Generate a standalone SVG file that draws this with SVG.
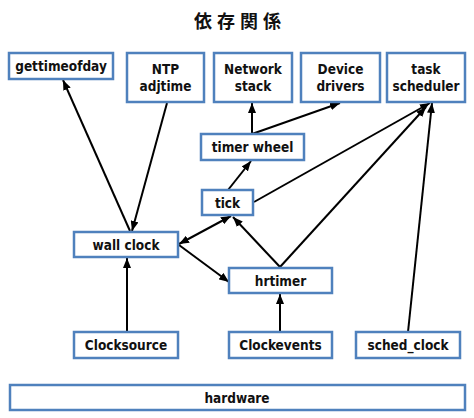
<svg xmlns="http://www.w3.org/2000/svg" width="474" height="418" viewBox="0 0 474 418">
<style>
.box{fill:#fff;stroke:#4f81bd;stroke-width:2.5}
.lbl{font-family:"DejaVu Sans Condensed","DejaVu Sans",sans-serif;font-stretch:condensed;font-weight:bold;font-size:13.5px;fill:#111;text-anchor:middle}
.title{font-family:"Noto Sans CJK JP","Noto Sans CJK SC",sans-serif;font-weight:bold;font-size:18px;fill:#111;text-anchor:middle;letter-spacing:5px}
.c{stroke:#000;stroke-width:2;fill:none;marker-end:url(#ah)}
</style>
<defs>
<marker id="ah" viewBox="0 0 10 8" refX="10" refY="4" markerWidth="10" markerHeight="8" markerUnits="userSpaceOnUse" orient="auto-start-reverse">
<path d="M0,0 L10,4 L0,8 z" fill="#000"/>
</marker>
</defs>
<rect width="474" height="418" fill="#fff"/>
<text class="title" x="240" y="28">依存関係</text>
<g id="connectors">
<line class="c" x1="130" y1="231" x2="63" y2="80"/>
<line class="c" x1="167" y1="103" x2="132" y2="231"/>
<line class="c" x1="127" y1="332" x2="127" y2="258"/>
<line class="c" x1="179" y1="244" x2="231" y2="216" style="marker-start:url(#ah)"/>
<line class="c" x1="179" y1="245" x2="229" y2="282"/>
<line class="c" x1="280" y1="267" x2="233" y2="217"/>
<line class="c" x1="280" y1="267" x2="426" y2="107"/>
<line class="c" x1="254" y1="202" x2="430" y2="103"/>
<line class="c" x1="408" y1="332" x2="432" y2="103"/>
<line class="c" x1="228" y1="190" x2="251" y2="161"/>
<line class="c" x1="252" y1="134" x2="252" y2="103"/>
<line class="c" x1="252" y1="134" x2="340" y2="103"/>
<line class="c" x1="280" y1="332" x2="280" y2="294"/>
</g>
<g id="gettimeofday"><rect class="box" x="9" y="53" width="104" height="26"/><text class="lbl" x="61" y="71">gettimeofday</text></g>
<g id="ntp"><rect class="box" x="127" y="53" width="77" height="49"/><text class="lbl" x="165.5" y="74">NTP</text><text class="lbl" x="165.5" y="91">adjtime</text></g>
<g id="network"><rect class="box" x="214" y="53" width="78" height="49"/><text class="lbl" x="253" y="74">Network</text><text class="lbl" x="253" y="91">stack</text></g>
<g id="device"><rect class="box" x="301" y="53" width="79" height="49"/><text class="lbl" x="340.5" y="74">Device</text><text class="lbl" x="340.5" y="91">drivers</text></g>
<g id="scheduler"><rect class="box" x="387" y="53" width="78" height="49"/><text class="lbl" x="426" y="74">task</text><text class="lbl" x="426" y="91">scheduler</text></g>
<g id="timerwheel"><rect class="box" x="201" y="134" width="103" height="26"/><text class="lbl" x="252.5" y="152">timer wheel</text></g>
<g id="tick"><rect class="box" x="202" y="190" width="51" height="25"/><text class="lbl" x="227.5" y="207.5">tick</text></g>
<g id="wallclock"><rect class="box" x="74" y="232" width="104" height="25"/><text class="lbl" x="126" y="249.5">wall clock</text></g>
<g id="hrtimer"><rect class="box" x="229" y="268" width="103" height="25"/><text class="lbl" x="280.5" y="285.5">hrtimer</text></g>
<g id="clocksource"><rect class="box" x="74" y="332" width="104" height="26"/><text class="lbl" x="126" y="350">Clocksource</text></g>
<g id="clockevents"><rect class="box" x="229" y="332" width="103" height="26"/><text class="lbl" x="280.5" y="350">Clockevents</text></g>
<g id="schedclock"><rect class="box" x="356" y="332" width="104" height="26"/><text class="lbl" x="408" y="350">sched_clock</text></g>
<g id="hardware"><rect class="box" x="10" y="385" width="455" height="25"/><text class="lbl" x="237" y="402.5">hardware</text></g>
</svg>
